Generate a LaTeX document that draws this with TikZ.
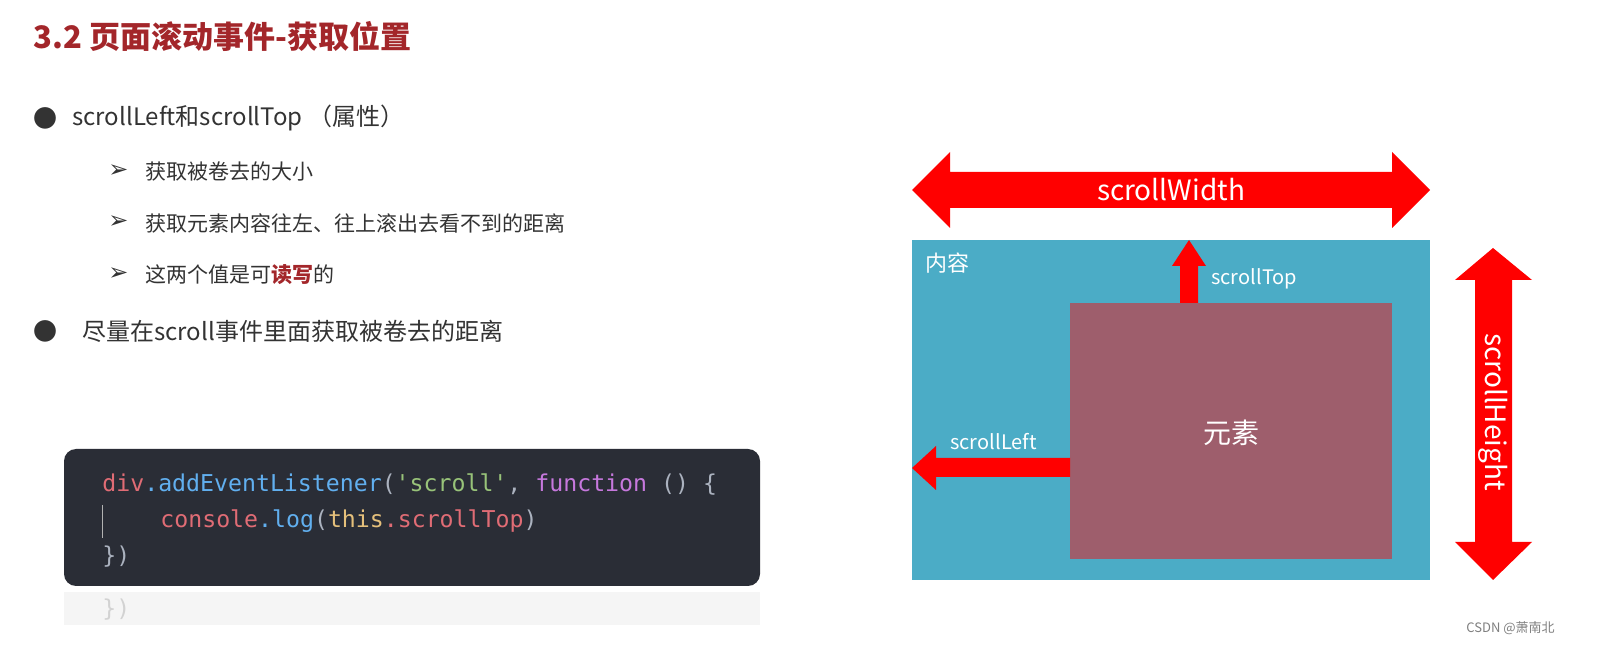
\documentclass[tikz,border=0pt]{standalone}
\usepackage{fontspec}
\setmainfont{Noto Sans CJK SC}
\setmonofont{DejaVu Sans Mono}
\newfontfamily\symfont{DejaVu Sans}
\definecolor{titlered}{HTML}{A3262A}
\definecolor{txt}{HTML}{333333}
\definecolor{codebg}{HTML}{2A2D36}
\definecolor{cred}{HTML}{E06C75}
\definecolor{cblue}{HTML}{61AFEF}
\definecolor{cgreen}{HTML}{98C379}
\definecolor{cpurple}{HTML}{C678DD}
\definecolor{cyellow}{HTML}{E5C07B}
\definecolor{cgrey}{HTML}{ABB2BF}
\definecolor{boxblue}{HTML}{4BACC6}
\definecolor{boxrose}{HTML}{9E5E6C}
\definecolor{arrred}{HTML}{FF0000}
\begin{document}
\begin{tikzpicture}[x=0.5pt,y=-0.5pt,
  body/.style={anchor=west,inner sep=0,text=txt,font=\fontsize{12}{14}\selectfont},
  sub/.style={anchor=west,inner sep=0,text=txt,font=\fontsize{10.5}{12}\selectfont},
  arr/.style={anchor=west,inner sep=0,text=txt,font=\symfont\fontsize{12}{14}\selectfont},
  code/.style={anchor=west,inner sep=0,font=\ttfamily\fontsize{11.6}{14}\selectfont},
  wlab/.style={inner sep=0,text=white}]
\useasboundingbox (0,0) rectangle (1597,657);
\fill[white] (0,0) rectangle (1597,657);
\node[anchor=west,inner sep=0,text=titlered,font=\bfseries\fontsize{15.5}{18}\selectfont] (title) at (33,36) {3.2 页面滚动事件-获取位置};
\node[body] (b1) at (33,118) {●};
\node[body] (t1) at (72,118) {scrollLeft和scrollTop （属性）};
\node[arr] (s1) at (108,171) {➢};
\node[sub] (u1) at (145,172) {获取被卷去的大小};
\node[arr] (s2) at (108,222) {➢};
\node[sub] (u2) at (145,223) {获取元素内容往左、往上滚出去看不到的距离};
\node[arr] (s3) at (108,274) {➢};
\node[sub] (u3) at (145,275) {这两个值是可\textcolor{titlered}{\bfseries 读写}的};
\node[body] (b2) at (33,331) {●};
\node[body] (t2) at (82,331) {尽量在scroll事件里面获取被卷去的距离};
% code box
\fill[codebg,rounded corners=6pt] (64,449) rectangle (760,586);
\node[code] (c1) at (102,485) {\textcolor{cred}{div}\textcolor{cblue}{.addEventListener}\textcolor{cgrey}{(}\textcolor{cgreen}{'scroll'}\textcolor{cgrey}{,~}\textcolor{cpurple}{function}\textcolor{cgrey}{~()~\{}};
\node[code] (c2) at (160,521) {\textcolor{cred}{console}\textcolor{cblue}{.log}\textcolor{cgrey}{(}\textcolor{cyellow}{this}\textcolor{cred}{.scrollTop}\textcolor{cgrey}{)}};
\node[code] (c3) at (102,557) {\textcolor{cgrey}{\})}};
\draw[gray!60] (102,505) -- (102,538);
\fill[gray!8] (64,592) rectangle (760,625);
\node[code,text=gray!35] (c4) at (102,610) {\})};
% boxes
\fill[boxblue] (912,240) rectangle (1430,580);
\node[wlab,anchor=west,font=\fontsize{11}{13}\selectfont] (nr) at (925,263) {内容};
\fill[boxrose] (1070,303) rectangle (1392,559);
\node[wlab,font=\fontsize{14}{16}\selectfont] (el) at (1231,433) {元素};
% scrollTop arrow
\fill[arrred] (1180,303) -- (1180,266) -- (1172,266) -- (1189,240) -- (1206,266) -- (1198,266) -- (1198,303) -- cycle;
\node[wlab,anchor=west,font=\fontsize{10}{12}\selectfont] (st) at (1211,279) {scrollTop};
% scrollLeft arrow
\fill[arrred] (1070,458) -- (936,458) -- (936,446) -- (912,468) -- (936,490) -- (936,477) -- (1070,477) -- cycle;
\node[wlab,anchor=west,font=\fontsize{10}{12}\selectfont] (sl) at (950,442) {scrollLeft};
% scrollWidth
\fill[arrred] (912,190) -- (950,152) -- (950,172) -- (1392,172) -- (1392,152) -- (1430,190) -- (1392,228) -- (1392,208) -- (950,208) -- (950,228) -- cycle;
\node[wlab,font=\fontsize{14}{16}\selectfont] (sw) at (1171,190) {scrollWidth};
% scrollHeight
\fill[arrred] (1493,248) -- (1532,280) -- (1512,280) -- (1512,542) -- (1532,542) -- (1493,580) -- (1455,542) -- (1475,542) -- (1475,280) -- (1455,280) -- cycle;
\node[wlab,rotate=-90,font=\fontsize{14}{16}\selectfont] (sh) at (1493,412) {scrollHeight};
\node[anchor=east,inner sep=0,text=gray,font=\fontsize{6.5}{8}\selectfont] (csdn) at (1555,628) {CSDN @萧南北};
\end{tikzpicture}
\end{document}
